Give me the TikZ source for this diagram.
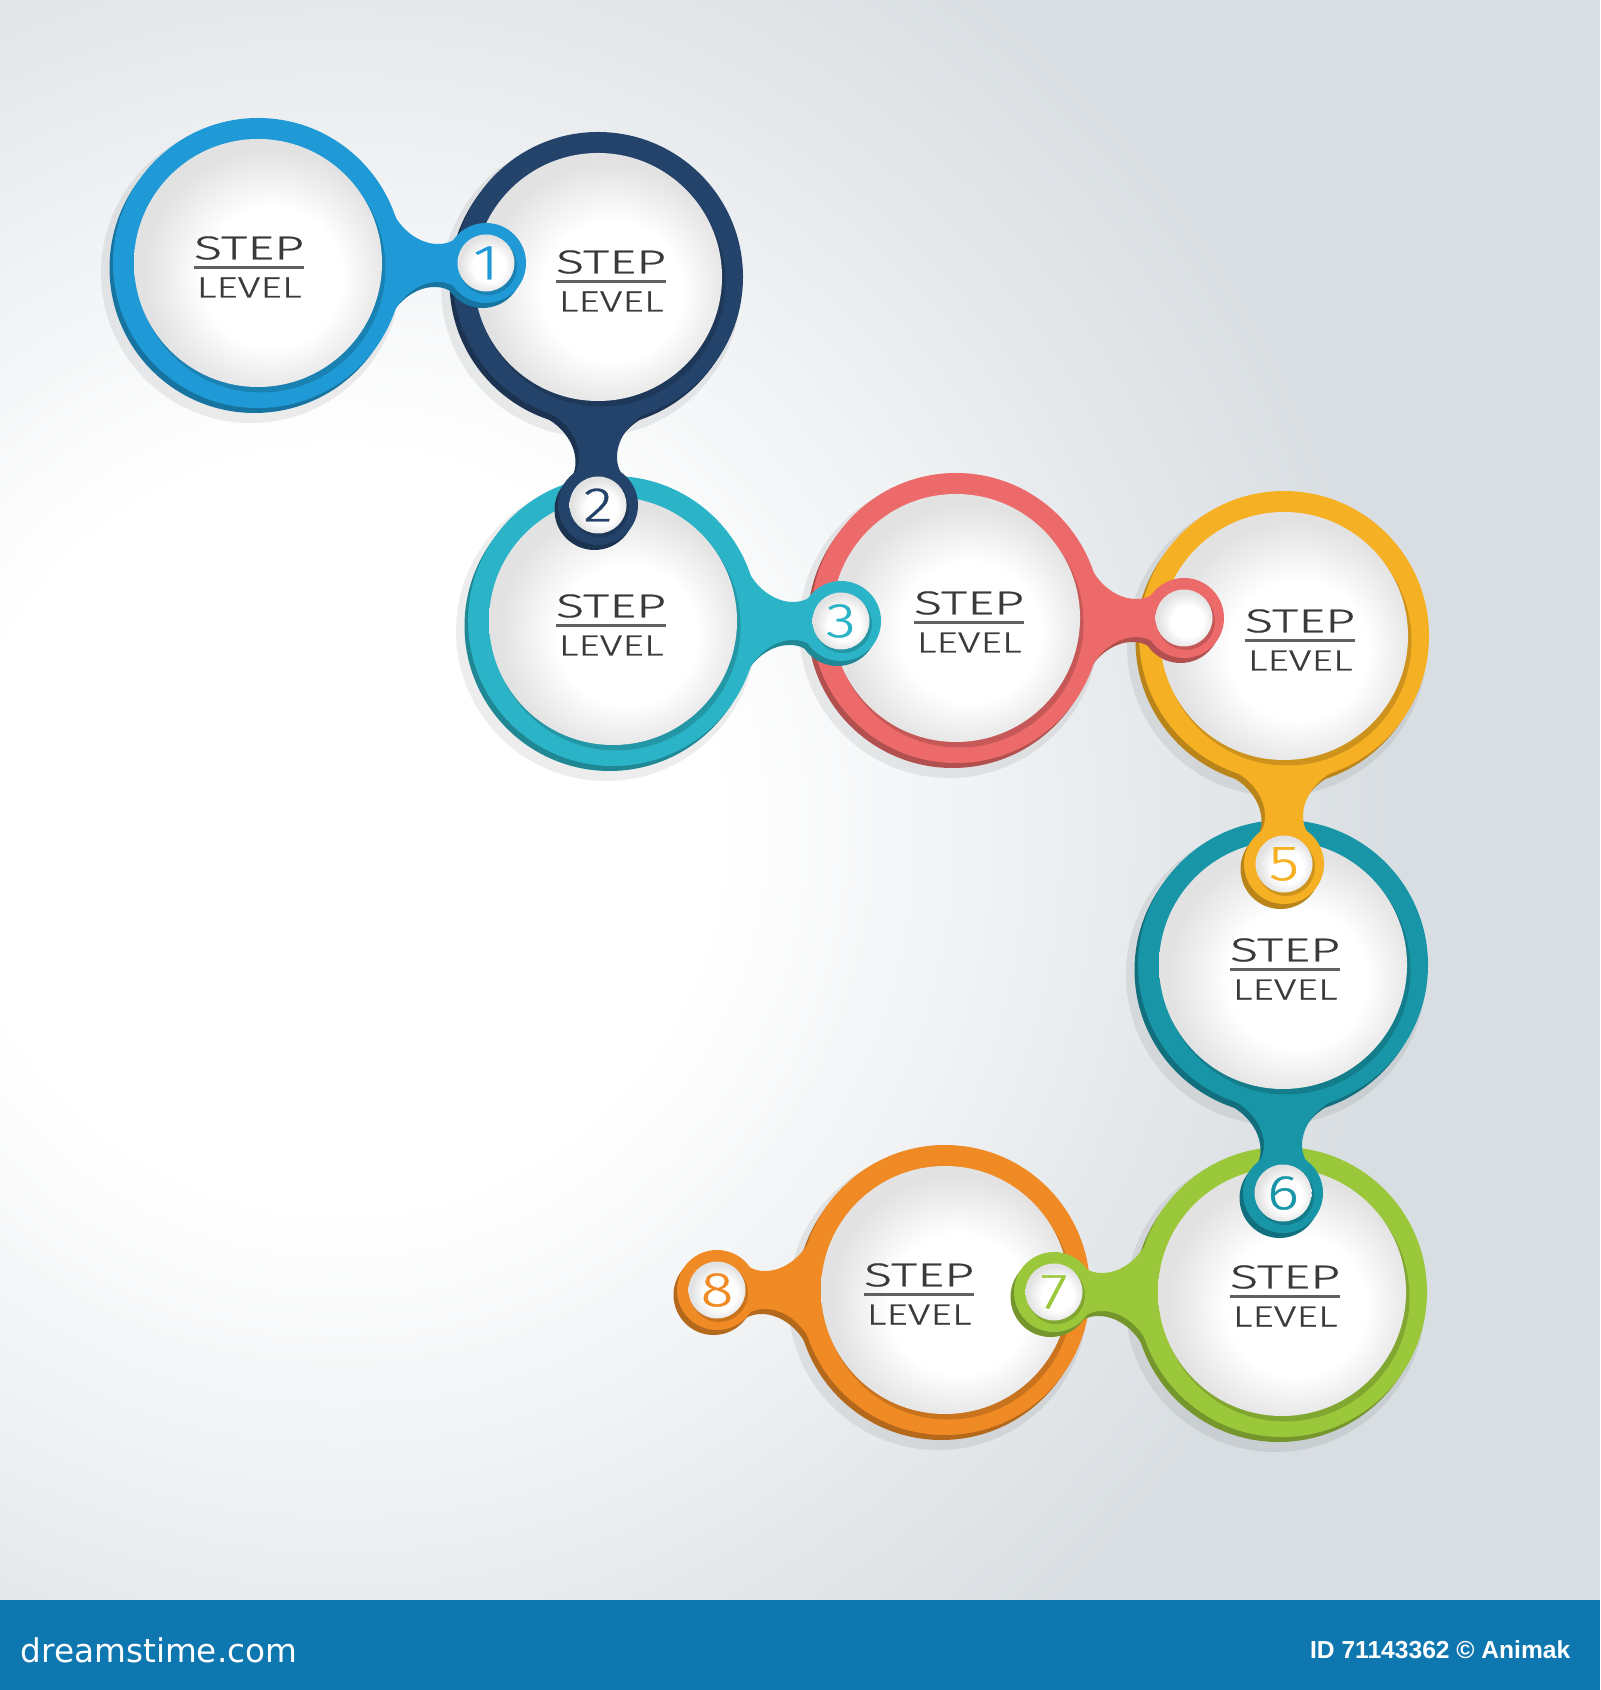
\documentclass[tikz,border=0pt]{standalone}
\usepackage{fontspec}
\setmainfont{Liberation Sans}
\IfFontExistsTF{Fira Sans Light}
  {\newfontfamily\stepfont{Fira Sans Light}[FakeBold=0.6]}
  {\IfFontExistsTF{Lato Light}
    {\newfontfamily\stepfont{Lato Light}[FakeBold=0.6]}
    {\IfFontExistsTF{DejaVu Sans ExtraLight}
      {\newfontfamily\stepfont{DejaVu Sans ExtraLight}[FakeBold=0.6]}
      {\newfontfamily\stepfont{DejaVu Sans}}}}
\newfontfamily\markfont{DejaVu Sans}
\usetikzlibrary{calc}

\definecolor{bgedge}{HTML}{D9DEE2}
\definecolor{discedge}{HTML}{E2E2E2}
\definecolor{barblue}{HTML}{0F77B0}
\definecolor{textgray}{HTML}{3A3A3A}
\definecolor{cOne}{HTML}{1F9AD6}
\definecolor{cTwo}{HTML}{24436B}
\definecolor{cThree}{HTML}{2BB4C7}
\definecolor{cFour}{HTML}{EC6A69}
\definecolor{cFive}{HTML}{F6B023}
\definecolor{cSix}{HTML}{1896A8}
\definecolor{cSeven}{HTML}{9BC83B}
\definecolor{cEight}{HTML}{F08A24}

\pgfdeclareradialshading{glow}{\pgfpoint{0bp}{0bp}}{color(0bp)=(white); color(9bp)=(white); color(25bp)=(bgedge); color(50bp)=(bgedge)}
\pgfdeclareradialshading{disc}{\pgfpoint{4bp}{-4bp}}{color(0bp)=(white); color(14bp)=(white); color(25bp)=(discedge); color(50bp)=(discedge)}

\newcommand{\wide}[2]{\scalebox{#1}[1]{#2}}
% neck from a ring towards its badge, badge on the x axis at 2.28
\newcommand{\neckpath}{(22:1.44) .. controls (1.41,0.35) and (1.6,0.19) .. (1.8,0.19) .. controls (1.92,0.19) and (1.98,0.24) .. (2.04,0.3) -- (2.04,-0.3) .. controls (1.98,-0.24) and (1.92,-0.19) .. (1.8,-0.19) .. controls (1.6,-0.19) and (1.41,-0.35) .. (-22:1.44) -- cycle}

\begin{document}
\begin{tikzpicture}[
    steptxt/.style={text=textgray, inner sep=0pt},
    badgenum/.style={inner sep=0pt},
    rule/.style={line width=0.9pt, draw=gray!75!black}
  ]
  \useasboundingbox (0,0) rectangle (16,-16.9);
  % background
  \fill[bgedge] (0,0) rectangle (16,-16);
  \shade[shading=glow] (3.4,-8.3) circle (10.5);
  \fill[barblue] (0,-16) rectangle (16,-16.9);
  \node[anchor=west, text=white, inner sep=0pt, font=\markfont\fontsize{9.3}{10}\selectfont] (site) at (0.2,-16.5) {dreamstime.com};
  \node[anchor=east, text=white, inner sep=0pt, font=\bfseries\fontsize{7}{8}\selectfont] (credit) at (15.71,-16.5) {ID 71143362 © Animak};

  % steps, drawn from the last one back to the first
  \foreach \i/\cx/\cy/\ang/\col/\num/\dx in {
      8/9.45/-12.90/180/cEight/8/-0.26,
      7/12.82/-12.92/180/cSeven/7/0.03,
      6/12.83/-9.65/-90/cSix/6/0.02,
      5/12.84/-6.36/-90/cFive/5/0.16,
      4/9.56/-6.18/0/cFour/{}/0.13,
      3/6.13/-6.21/0/cThree/3/-0.02,
      2/5.98/-2.77/-90/cTwo/2/0.13,
      1/2.58/-2.63/0/cOne/1/-0.09}{
    \begin{scope}[shift={(\cx,\cy)}]
      \coordinate (c\i) at (0,0);
      % shadow on the background
      \begin{scope}[shift={(-0.07,-0.1)}]
        \fill[black,opacity=0.07] (0,0) circle (1.5);
      \end{scope}
      % extruded edge
      \begin{scope}[shift={(-0.035,-0.05)}]
        \fill[\col!75!black] (0,0) circle (1.45);
        \begin{scope}[rotate=\ang]
          \fill[\col!75!black] \neckpath;
          \fill[\col!75!black] (2.28,0) circle (0.40);
        \end{scope}
      \end{scope}
      % face of ring, neck and badge
      \fill[\col] (0,0) circle (1.45);
      \begin{scope}[rotate=\ang]
        \fill[\col] \neckpath;
        \fill[\col] (2.28,0) circle (0.40);
      \end{scope}
      % white disc
      \fill[black,opacity=0.16] (0.03,-0.05) circle (1.245);
      \shade[shading=disc] (0,0) circle (1.24);
      % badge
      \begin{scope}[shift={(\ang:2.28)}]
        \coordinate (b\i) at (0,0);
        \fill[black,opacity=0.16] (0.02,-0.03) circle (0.29);
        \shade[shading=disc] (0,0) circle (0.285);
        \ifx\num\empty\else
          \node[badgenum, text=\col] (n\i) at (0,0) {\wide{1.25}{\resizebox{!}{0.33cm}{\stepfont\num}}};
        \fi
      \end{scope}
      % label
      \node[steptxt] (step\i) at (\dx,0.15) {\resizebox{1.1cm}{0.23cm}{\stepfont STEP}};
      \draw[rule] (\dx-0.55,-0.045) -- (\dx+0.55,-0.045);
      \node[steptxt] (level\i) at (\dx,-0.245) {\resizebox{1.05cm}{0.2cm}{\stepfont LEVEL}};
    \end{scope}
  }
\end{tikzpicture}
\end{document}
